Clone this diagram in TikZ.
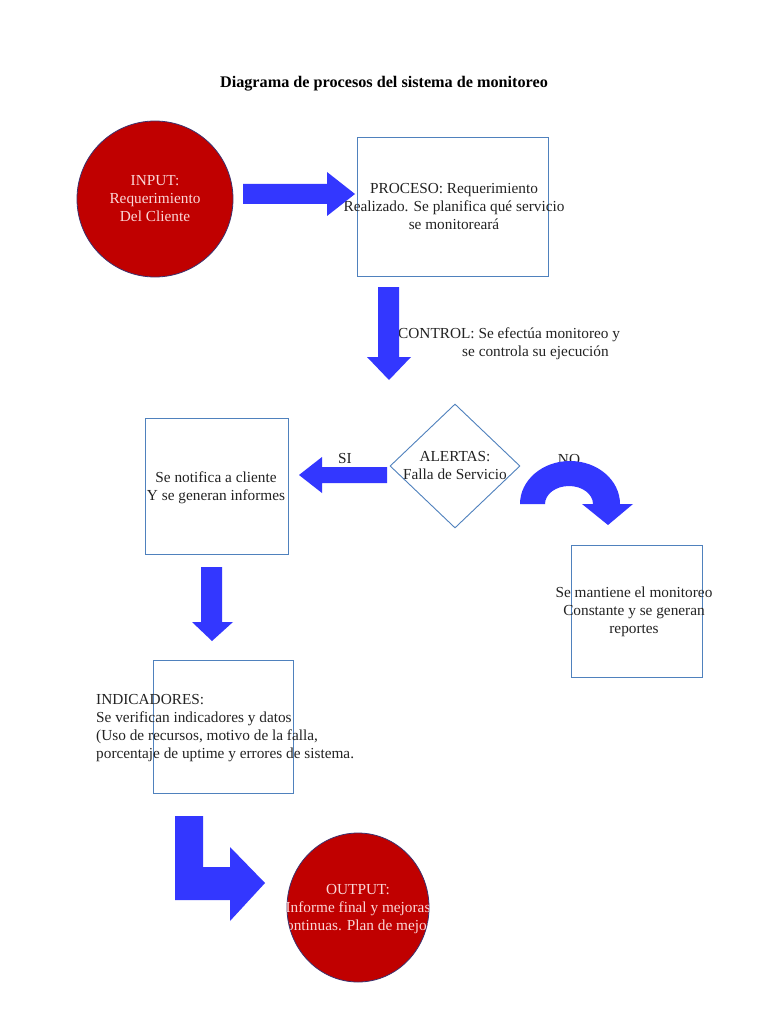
\documentclass[tikz,border=0pt]{standalone}
\usepackage{fontspec}
\setmainfont{Liberation Serif}
\usetikzlibrary{shapes.geometric}
\definecolor{arrowblue}{RGB}{51,55,255}
\definecolor{circred}{RGB}{192,0,0}
\definecolor{circedge}{RGB}{60,50,110}
\definecolor{boxedge}{RGB}{79,129,189}
\definecolor{pinktxt}{RGB}{250,215,215}
\definecolor{txtgray}{RGB}{35,35,35}
\begin{document}
\begin{tikzpicture}[x=1pt,y=-1pt,
  every node/.style={font=\fontsize{15.3}{18}\selectfont, text=txtgray},
  bluearrow/.style={fill=arrowblue, draw=none},
  redcircle/.style={circle, fill=circred, draw=circedge, line width=0.8pt, inner sep=0pt},
  bluebox/.style={rectangle, draw=boxedge, line width=0.9pt, inner sep=0pt},
  boxtext/.style={align=center, inner sep=0pt},
  circtext/.style={align=center, inner sep=0pt, text=pinktxt}
]
\useasboundingbox (0,0) rectangle (768,1024);
\fill[white] (0,0) rectangle (768,1024);

% title
\node[font=\fontsize{16.2}{19}\selectfont\bfseries, text=black] (title) at (384,84) {Diagrama de procesos del sistema de monitoreo};

% input circle
\node[redcircle, minimum size=156pt, circtext] (input) at (155,199) {INPUT:\\Requerimiento\\ Del Cliente};

% proceso box
\node[bluebox, minimum width=191pt, minimum height=139pt] (proc) at (453,206.5) {};
\node[boxtext] (proctxt) at (454,207) {PROCESO: Requerimiento\\Realizado. Se planifica qué servicio\\se monitoreará};

% control text
\node[align=left, inner sep=0pt, anchor=west] (ctrl) at (398,344) {CONTROL: Se efectúa monitoreo y\\\hspace*{64pt}se controla su ejecución};

% diamond
\node[diamond, draw=boxedge, line width=0.9pt, minimum width=130pt, minimum height=124pt, inner sep=0pt] (alert) at (455,466) {};
\node[boxtext] (alerttxt) at (455,466) {ALERTAS:\\Falla de Servicio};

% SI / NO labels
\node[inner sep=0pt] (si) at (345,459) {SI};
\node[inner sep=0pt] (no) at (569,460) {NO};

% left box
\node[bluebox, minimum width=143pt, minimum height=136pt] (notif) at (216.5,486) {};
\node[boxtext] (notiftxt) at (216,488) {Se notifica a cliente\\ Y se generan informes};

% right box
\node[bluebox, minimum width=131pt, minimum height=132pt] (mant) at (636.5,611) {};
\node[boxtext] (manttxt) at (634,612) {Se mantiene el monitoreo\\ Constante y se generan\\reportes};

% indicadores box
\node[bluebox, minimum width=140pt, minimum height=133pt] (ind) at (223,726.5) {};
\node[align=left, inner sep=0pt, anchor=west] (indtxt) at (96,728) {INDICADORES:\\Se verifican indicadores y datos\\(Uso de recursos, motivo de la falla,\\porcentaje de uptime y errores de sistema.};

% output circle
\node[ellipse, fill=circred, draw=circedge, line width=0.8pt, inner sep=0pt, minimum width=142pt, minimum height=149pt] (output) at (358,907.5) {};
\begin{scope}
  \clip (358,907.5) ellipse [x radius=71, y radius=74.5];
  \node[circtext] (outtxt) at (358,909) {OUTPUT:\\Informe final y mejoras\\\hspace*{8pt}continuas. Plan de mejoras};
\end{scope}

% block arrows
\path[bluearrow] (243,184) -- (327,184) -- (327,172) -- (355,194) -- (327,216) -- (327,204) -- (243,204) -- cycle;
\path[bluearrow] (378,287) -- (399,287) -- (399,357) -- (411,357) -- (389,380) -- (367,357) -- (378,357) -- cycle;
\path[bluearrow] (387,467) -- (322,467) -- (322,457) -- (299,475) -- (322,493) -- (322,483) -- (387,483) -- cycle;
\path[bluearrow] (201,567) -- (222,567) -- (222,622) -- (233,622) -- (212,641) -- (192,622) -- (201,622) -- cycle;
\path[bluearrow] (175,816) -- (203,816) -- (203,867) -- (230,867) -- (230,847) -- (265,883) -- (230,921) -- (230,900) -- (175,900) -- cycle;
% curved arrow (NO)
\path[bluearrow] (520,504) arc[start angle=180, end angle=360, x radius=50, y radius=43]
  -- (633,504) -- (608,525) -- (582,504) -- (593,504)
  arc[start angle=360, end angle=180, x radius=24, y radius=18] -- cycle;
\end{tikzpicture}
\end{document}
